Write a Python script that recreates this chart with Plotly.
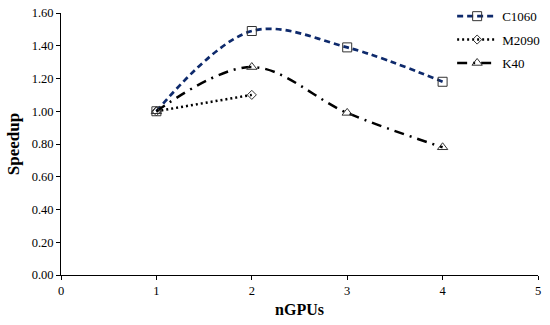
import plotly.graph_objects as go

x_c1060 = [1, 2, 3, 4]
y_c1060 = [1.00, 1.49, 1.39, 1.18]
x_m2090 = [1, 2]
y_m2090 = [1.00, 1.10]
x_k40 = [1, 2, 3, 4]
y_k40 = [1.00, 1.27, 0.99, 0.78]

font_family = "Liberation Serif, Times New Roman, serif"

fig = go.Figure()
fig.add_trace(go.Scatter(
    x=x_c1060, y=y_c1060, name="C1060", mode="lines+markers", legendgroup="a",
    line=dict(color="#0E2A6C", width=2.7, dash="6px,4px", shape="spline", smoothing=1),
    marker=dict(symbol="square-open", size=9, color="#333333", line=dict(width=1))))
fig.add_trace(go.Scatter(
    x=x_m2090, y=y_m2090, name="M2090", mode="lines+markers", legendgroup="b",
    line=dict(color="black", width=2.5, dash="2px,3px", shape="spline", smoothing=1),
    marker=dict(symbol="diamond-open", size=7, color="#333333", line=dict(width=1))))
fig.add_trace(go.Scatter(
    x=x_k40, y=y_k40, name="K40", mode="lines+markers", legendgroup="c",
    line=dict(color="black", width=2.5, dash="10px,6px,2px,6px", shape="spline", smoothing=1),
    marker=dict(symbol="triangle-up-open", size=9, color="#333333", line=dict(width=1))))

fig.update_layout(
    width=550, height=325,
    margin=dict(l=61, r=12, t=13, b=50, autoexpand=False),
    paper_bgcolor="white", plot_bgcolor="white",
    font=dict(family=font_family, size=12, color="black"),
    showlegend=True,
    legend=dict(x=0.82, y=1.045, xanchor="left", yanchor="top",
                bgcolor="rgba(255,255,255,0)", font=dict(size=13),
                itemwidth=40, tracegroupgap=3.5),
    xaxis=dict(range=[0, 5], tickvals=[0, 1, 2, 3, 4, 5], showgrid=False, zeroline=False,
               showline=True, linecolor="black", linewidth=1, ticks="outside", ticklen=4,
               tickcolor="black", automargin=False, tickfont=dict(size=12.5),
               title=dict(text="<b>nGPUs</b>", font=dict(size=16), standoff=6)),
    yaxis=dict(range=[0, 1.6], tickvals=[0, 0.2, 0.4, 0.6, 0.8, 1.0, 1.2, 1.4, 1.6],
               tickformat=".2f", showgrid=False, zeroline=False,
               showline=True, linecolor="black", linewidth=1, ticks="outside", ticklen=4,
               tickcolor="black", automargin=False, tickfont=dict(size=12.5),
               title=dict(text="<b>Speedup</b>", font=dict(size=17), standoff=7)),
)

fig.write_html("out.html", config={"displayModeBar": False},
               post_script="document.body.style.margin='0';")
